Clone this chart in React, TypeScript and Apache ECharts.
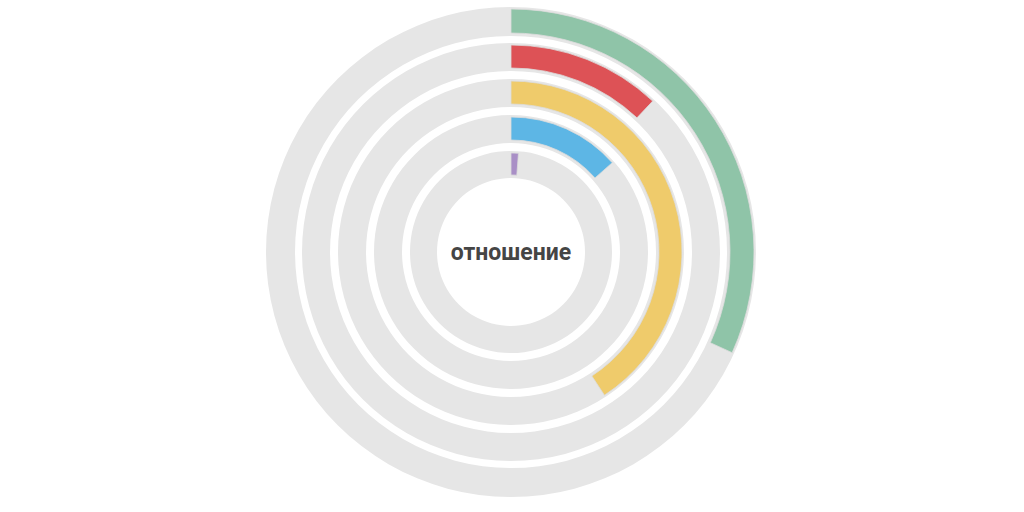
import React, { useEffect, useRef } from "react";
import * as echarts from "echarts";

// ring values (% of full circle), outer -> inner
const ringNames = ["A", "B", "C", "D", "E"];
const ringValues = [31.8, 12.0, 40.8, 13.5, 1.2];
const ringColors = ["#8fc4a8", "#dd5256", "#efcb6b", "#5db6e5", "#a98fc6"];
const centerLabel = "отношение";
const TOTAL = 100;

// band radii in px, outer -> inner
const BANDS: [number, number][] = [
  [216, 245],
  [181, 209],
  [145, 173],
  [109, 137],
  [74, 101],
];
const CENTER = [511, 252];
const GRAY = "#e6e6e6";

const App: React.FC = () => {
  const ref = useRef<HTMLDivElement>(null);

  useEffect(() => {
    document.body.style.margin = "0";
    if (!ref.current) return;
    const chart = echarts.init(ref.current, null, { renderer: "svg" });

    const series: any[] = [];
    ringValues.forEach((v, i) => {
      const [r0, r1] = BANDS[i];
      // grey track
      series.push({
        type: "pie",
        silent: true,
        center: CENTER,
        radius: [r0, r1],
        startAngle: 90,
        clockwise: true,
        label: { show: false },
        labelLine: { show: false },
        itemStyle: { color: GRAY, borderWidth: 0 },
        data: [{ value: TOTAL, name: ringNames[i] + "-bg" }],
      });
      // coloured arc
      series.push({
        type: "pie",
        silent: true,
        center: CENTER,
        radius: [r0 + 3, r1 - 2],
        startAngle: 90,
        clockwise: true,
        label: { show: false },
        labelLine: { show: false },
        data: [
          {
            value: v,
            name: ringNames[i],
            itemStyle: { color: ringColors[i], borderColor: "#dcdcdc", borderWidth: 0.8 },
          },
          {
            value: TOTAL - v,
            name: ringNames[i] + "-rest",
            itemStyle: { color: "transparent", borderWidth: 0 },
          },
        ],
      });
    });

    chart.setOption({
      animation: false,
      backgroundColor: "#fff",
      graphic: [
        {
          type: "text",
          x: CENTER[0],
          y: CENTER[1],
          style: {
            text: centerLabel,
            fill: "#454545",
            font: "bold 23px Roboto, 'Noto Sans', sans-serif",
            textAlign: "center",
            textVerticalAlign: "middle",
          },
        },
      ],
      series,
    });

    return () => chart.dispose();
  }, []);

  return <div ref={ref} style={{ width: 1024, height: 512 }} />;
};

export default App;
